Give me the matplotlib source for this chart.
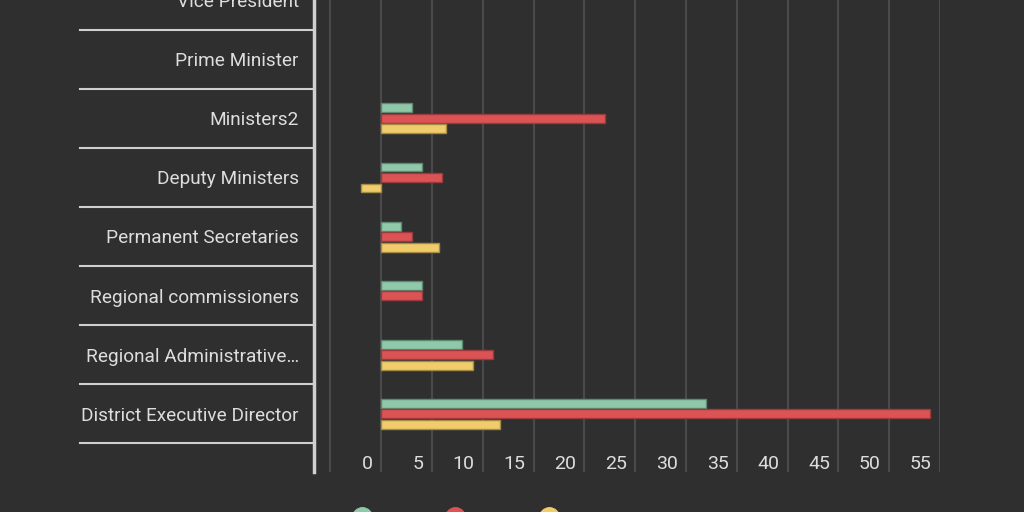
import numpy as np
import matplotlib
matplotlib.use("Agg")
from matplotlib import pyplot as plt
from matplotlib import transforms
from matplotlib.lines import Line2D

# categories bottom -> top
categorias = ['District Executive Director', 'Regional Administrative…',
              'Regional commissioners', 'Permanent Secretaries',
              'Deputy Ministers', 'Ministers2', 'Prime Minister', 'Vice President']
serie_verde = [32, 8, 4, 2, 4, 3, np.nan, np.nan]
serie_vermelha = [54, 11, 4, 3, 6, 22, np.nan, np.nan]
serie_amarela = [11.7, 9, np.nan, 5.7, -2, 6.4, np.nan, np.nan]
nomes_series = ['Series 1', 'Series 2', 'Series 3']
xticks = list(range(-5, 56, 5))

fundo = '#2f2f2f'
cores = ['#8fc9a9', '#dc5356', '#f0cd6a']
bordas = ['#5f8a72', '#9a3a3c', '#a48c48']

plt.rcParams['font.family'] = ['Roboto', 'DejaVu Sans']

fig = plt.figure(figsize=(10.24, 5.12), dpi=100, facecolor=fundo)
ax = fig.add_axes([314 / 1024, 40 / 512, 626 / 1024, 472 / 512])
ax.set_facecolor(fundo)

y = np.arange(len(categorias))
alt = 0.15
offsets = [0.175, 0.0, -0.18]
for serie, off, cor, borda in zip([serie_verde, serie_vermelha, serie_amarela],
                                  offsets, cores, bordas):
    ax.barh(y + off, serie, height=alt, color=cor, edgecolor=borda, linewidth=1, zorder=3)

ax.set_xlim(-6.6, 55)
ax.set_ylim(-0.984, 6.90)

# grid
ax.set_xticks(xticks)
ax.set_xticklabels(['' if v < 0 else str(v) for v in xticks])
ax.grid(axis='x', color='#4a4a4a', linewidth=1.5, zorder=0)
ax.tick_params(axis='x', length=0, pad=0, labelsize=14, labelcolor='#dddddd')
desloc = transforms.ScaledTranslation(-6 / 72, 12 / 72, fig.dpi_scale_trans)
for lbl in ax.get_xticklabels():
    lbl.set_horizontalalignment('right')
    lbl.set_transform(lbl.get_transform() + desloc)

ax.set_yticks(y)
ax.set_yticklabels(categorias)
ax.tick_params(axis='y', length=0, pad=11, labelsize=13.7, labelcolor='#dddddd')

for lado in ['top', 'right', 'bottom']:
    ax.spines[lado].set_visible(False)
ax.spines['left'].set_color('#d0d0d0')
ax.spines['left'].set_linewidth(2.5)

# separators in the label column
trans = transforms.blended_transform_factory(ax.transAxes, ax.transData)
for b in np.arange(-0.5, len(categorias) - 0.5, 1):
    ax.plot([-234 / 626, 0], [b, b], transform=trans, color='#d0d0d0',
            linewidth=1.5, clip_on=False, zorder=4)

# legend (cut at the bottom edge)
handles = [Line2D([], [], marker='o', linestyle='', markersize=14,
                  markerfacecolor=c, markeredgecolor=c) for c in cores]
fig.legend(handles, nomes_series, loc='center left', ncol=3, frameon=False,
           bbox_to_anchor=(338 / 1024, -6 / 512), fontsize=9,
           labelcolor='#dddddd', handletextpad=0.3, columnspacing=1.6)

fig.savefig('out.png', dpi=100, facecolor=fundo)
